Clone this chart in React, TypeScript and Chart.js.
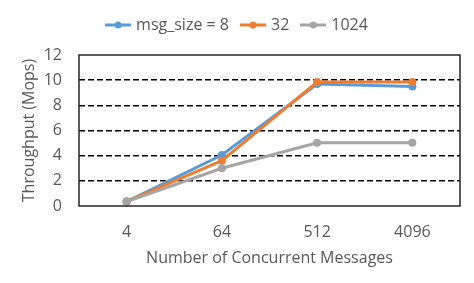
import React, { useEffect, useRef } from "react";
import { Chart, registerables } from "chart.js";

Chart.register(...registerables);

const categories = ["4", "64", "512", "4096"];
const seriesNames = ["msg_size = 8", "32", "1024"];
const size8 = [0.35, 4.05, 9.7, 9.5];
const size32 = [0.35, 3.6, 9.85, 9.85];
const size1024 = [0.35, 3.0, 5.02, 5.02];
const colors = ["#5B9BD5", "#ED7D31", "#A5A5A5"];
const yTicks = { min: 0, max: 12, step: 2 };

const FONT = "'Open Sans', 'Noto Sans', sans-serif";
const TEXT = "#595959";
const FS = 16;

function legendImage(color: string): HTMLCanvasElement {
  const c = document.createElement("canvas");
  c.width = 26;
  c.height = 10;
  const g = c.getContext("2d")!;
  g.strokeStyle = color;
  g.lineWidth = 3;
  g.beginPath();
  g.moveTo(0, 5);
  g.lineTo(26, 5);
  g.stroke();
  g.fillStyle = color;
  g.beginPath();
  g.arc(13, 5, 3.5, 0, Math.PI * 2);
  g.fill();
  return c;
}

const borderPlugin = {
  id: "plotBorder",
  beforeInit(chart: any) {
    const lg = chart.legend;
    if (lg && !lg.__patched) {
      const orig = lg.fit;
      lg.fit = function () {
        orig.call(this);
        this.height += 12;
      };
      lg.__patched = true;
    }
  },
  afterDraw(chart: any) {
    const { ctx, chartArea } = chart;
    ctx.save();
    ctx.strokeStyle = "#262626";
    ctx.lineWidth = 1.5;
    ctx.strokeRect(chartArea.left, chartArea.top, chartArea.right - chartArea.left, chartArea.bottom - chartArea.top);
    ctx.restore();
  },
};

export default function App() {
  const ref = useRef<HTMLCanvasElement>(null);
  useEffect(() => {
    document.body.style.margin = "0";
    const data = [size8, size32, size1024];
    const chart = new Chart(ref.current!, {
      type: "line",
      data: {
        labels: categories,
        datasets: seriesNames.map((name, i) => ({
          label: name,
          data: data[i],
          borderColor: colors[i],
          backgroundColor: colors[i],
          borderWidth: 3,
          pointRadius: 4,
          pointBorderWidth: 0,
          pointBackgroundColor: colors[i],
          tension: 0,
          order: 3 - i,
        })),
      },
      options: {
        animation: false,
        responsive: true,
        maintainAspectRatio: false,
        layout: { padding: { top: 3, right: 14, bottom: 15, left: 16 } },
        plugins: {
          tooltip: { enabled: false },
          legend: {
            position: "top",
            labels: {
              usePointStyle: true,
              pointStyleWidth: 20,
              padding: 14,
              color: TEXT,
              font: { family: FONT, size: FS },
              generateLabels: (chart: any) =>
                chart.data.datasets.map((ds: any, i: number) => ({
                  text: ds.label,
                  fillStyle: colors[i],
                  strokeStyle: colors[i],
                  lineWidth: 0,
                  pointStyle: legendImage(colors[i]),
                  datasetIndex: i,
                  hidden: false,
                  fontColor: TEXT,
                })),
            },
          },
        },
        scales: {
          x: {
            offset: true,
            grid: { display: false, drawTicks: false },
            border: { display: false },
            ticks: { color: TEXT, font: { family: FONT, size: FS }, padding: 17 },
            title: {
              display: true,
              text: "Number of Concurrent Messages",
              color: TEXT,
              font: { family: FONT, size: FS },
              padding: { top: 6, bottom: 0 },
            },
            afterFit: (s: any) => {
              s.height = 62;
            },
          },
          y: {
            min: yTicks.min,
            max: yTicks.max,
            border: { display: false, dash: [6, 3] },
            grid: {
              drawTicks: false,
              lineWidth: 1.5,
              color: (c: any) => (c.tick && (c.tick.value === yTicks.min || c.tick.value === yTicks.max) ? "rgba(0,0,0,0)" : "#000"),
            },
            ticks: { stepSize: yTicks.step, color: TEXT, font: { family: FONT, size: FS }, padding: 17 },
            title: {
              display: true,
              text: "Throughput (Mops)",
              color: TEXT,
              font: { family: FONT, size: FS },
              padding: { top: 4, bottom: 4 },
            },
            afterFit: (s: any) => {
              s.width = 63;
            },
          },
        },
      },
      plugins: [borderPlugin],
    });
    return () => chart.destroy();
  }, []);
  return (
    <div style={{ position: "relative", width: 474, height: 283 }}>
      <canvas ref={ref} />
    </div>
  );
}
